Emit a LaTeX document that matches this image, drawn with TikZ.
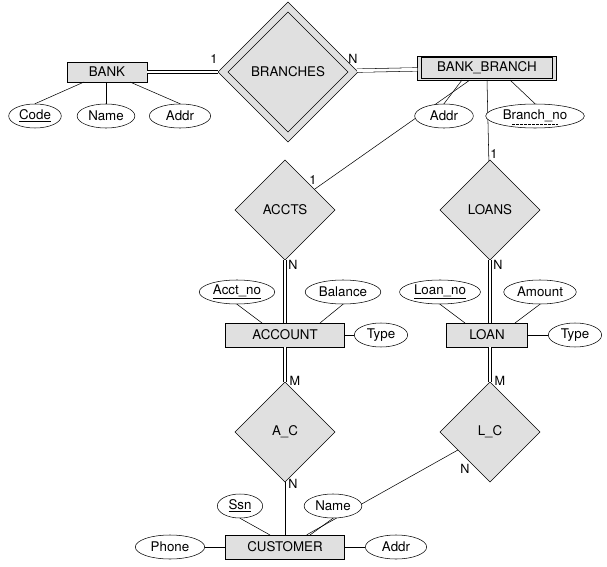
\documentclass[tikz,border=0pt]{standalone}
\usepackage{fontspec}
\setmainfont{TeX Gyre Heros}
\usetikzlibrary{shapes.geometric}
\begin{document}
\begin{tikzpicture}[x=0.75pt,y=-0.75pt,
  every node/.style={font=\fontsize{10}{12}\selectfont},
  ent/.style={draw,fill=black!12,rectangle,minimum height=13.5pt,inner sep=1pt},
  rel/.style={draw,fill=black!12,diamond,minimum width=75pt,minimum height=75pt,inner sep=0pt},
  att/.style={draw,fill=white,ellipse,minimum height=18pt,inner xsep=2pt,inner ysep=0pt},
  dbl/.style={double,double distance=2.2pt},
  lab/.style={inner sep=0pt,font=\fontsize{9.5}{11}\selectfont}]
\useasboundingbox (0,0) rectangle (607,567);
% entities
\node[ent,minimum width=60pt,minimum height=15pt] (bank) at (107,72) {BANK};
\node[draw,rectangle,minimum width=104pt,minimum height=18pt,fill=black!12] (bb) at (487,68) {};
\node[draw,rectangle,minimum width=98pt,minimum height=13pt,fill=black!12] (bbi) at (487,68) {BANK\_BRANCH};
\node[ent,minimum width=89pt,minimum height=18pt] (account) at (285,335) {ACCOUNT};
\node[ent,minimum width=61pt,minimum height=18pt] (loan) at (487,335) {LOAN};
\node[ent,minimum width=89pt,minimum height=18pt] (customer) at (285,547) {CUSTOMER};
% relationships
\node[rel,minimum width=105pt,minimum height=105pt] (branches) at (288,72) {};
\node[rel,minimum width=90pt,minimum height=90pt] (branchesi) at (288,72) {BRANCHES};
\node[rel] (accts) at (285,210) {ACCTS};
\node[rel] (loans) at (490,210) {LOANS};
\node[rel] (ac) at (285,432) {A\_C};
\node[rel] (lc) at (490,432) {L\_C};
% connectors
\draw[dbl] (bank) -- (branches);
\draw[dbl] (branches) -- (bb);
\draw (bb) -- (accts);
\draw (487,80) -- (loans);
\draw[dbl] (accts) -- (account);
\draw[dbl] (loans.south) -- (loans.south |- loan.north);
\draw[dbl] (account) -- (ac);
\draw[dbl] (loan.south -| lc.north) -- (lc.north);
\draw (ac) -- (customer);
\draw (lc) -- (customer);
% attributes
\node[att,minimum width=38pt] (code) at (35,116) {\underline{Code}};
\node[att,minimum width=40pt] (bname) at (106,116) {Name};
\node[att,minimum width=46pt] (baddr) at (180,116) {Addr};
\node[att,minimum width=44pt] (bbaddr) at (444,116) {Addr};
\node[att,minimum width=57pt] (brno) at (535,116) {Branch\_no};
\draw[dashed,line width=0.4pt,dash pattern=on 2pt off 1pt] (512,124) -- (558,124);
\node[att,minimum width=52pt] (acctno) at (237,292) {\underline{Acct\_no}};
\node[att,minimum width=52pt] (balance) at (343,292) {Balance};
\node[att,minimum width=40pt] (atype) at (381,335) {Type};
\node[att,minimum width=48pt] (loanno) at (440,292) {\underline{Loan\_no}};
\node[att,minimum width=50pt] (amount) at (540,292) {Amount};
\node[att,minimum width=40pt] (ltype) at (575,335) {Type};
\node[att,minimum width=34pt] (ssn) at (240,506) {\underline{Ssn}};
\node[att,minimum width=40pt] (cname) at (333,506) {Name};
\node[att,minimum width=52pt] (phone) at (170,547) {Phone};
\node[att,minimum width=46pt] (caddr) at (396,547) {Addr};
\draw (code.north) -- (84,82);
\draw (bname.north) -- (bank.south -| bname.north);
\draw (baddr.north) -- (130,82);
\draw (bbaddr.north) -- (462,80);
\draw (brno.north) -- (510,80);
\draw (acctno.south) -- (262,323);
\draw (balance.south) -- (320,323);
\draw (atype) -- (account);
\draw (loanno.south) -- (465,323);
\draw (amount.south) -- (515,323);
\draw (ltype) -- (loan);
\draw (ssn.south) -- (270,535);
\draw (cname.south) -- (310,535);
\draw (phone) -- (customer);
\draw (caddr) -- (customer);
% cardinalities
\node[lab] (c1) at (214,59) {1};
\node[lab] (c2) at (353,59) {N};
\node[lab] (c3) at (313,180) {1};
\node[lab] (c4) at (494,154) {1};
\node[lab] (c5) at (293,265) {N};
\node[lab] (c6) at (498,265) {N};
\node[lab] (c7) at (295,381) {M};
\node[lab] (c8) at (500,381) {M};
\node[lab] (c9) at (293,484) {N};
\node[lab] (c10) at (465,469) {N};
\end{tikzpicture}
\end{document}
